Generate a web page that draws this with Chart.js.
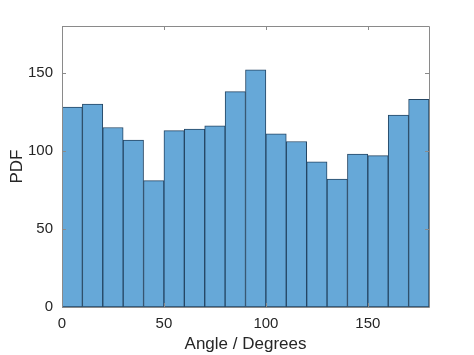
<!DOCTYPE html>
<html>
<head>
<meta charset="utf-8">
<script src="https://cdn.jsdelivr.net/npm/chart.js@4/dist/chart.umd.min.js"></script>
<style>
html,body{margin:0;padding:0;background:#fff;}
#wrap{width:474px;height:355px;}
</style>
</head>
<body>
<div id="wrap"><canvas id="c" width="474" height="355"></canvas></div>
<script>
// Histogram bins (centres, degrees) and counts
const binCenters = [5, 15, 25, 35, 45, 55, 65, 75, 85, 95, 105, 115, 125, 135, 145, 155, 165, 175];
const counts = [128, 130, 115, 107, 81, 113, 114, 116, 138, 152, 111, 106, 93, 82, 98, 97, 123, 133];
const xTicks = [0, 50, 100, 150];
const yTicks = [0, 50, 100, 150];
const xTitle = 'Angle / Degrees';
const yTitle = 'PDF';

const FONT = 'Liberation Sans, Arial, Helvetica, sans-serif';
const AXIS_COLOR = '#8a8a8a';
const TEXT_COLOR = '#262626';

const boxPlugin = {
  id: 'box',
  afterDatasetsDraw(chart) {
    const {ctx, chartArea: a, scales} = chart;
    ctx.save();
    ctx.strokeStyle = AXIS_COLOR;
    ctx.lineWidth = 1;
    ctx.beginPath();
    ctx.rect(Math.round(a.left) + 0.5, Math.round(a.top) + 0.5, Math.round(a.right - a.left), Math.round(a.bottom - a.top));
    ctx.stroke();
    const tl = 4;
    ctx.beginPath();
    xTicks.forEach(v => {
      const px = Math.round(scales.x.getPixelForValue(v)) + 0.5;
      ctx.moveTo(px, a.bottom); ctx.lineTo(px, a.bottom - tl);
      ctx.moveTo(px, a.top); ctx.lineTo(px, a.top + tl);
    });
    yTicks.forEach(v => {
      const py = Math.round(scales.y.getPixelForValue(v)) + 0.5;
      ctx.moveTo(a.left, py); ctx.lineTo(a.left + tl, py);
      ctx.moveTo(a.right, py); ctx.lineTo(a.right - tl, py);
    });
    ctx.stroke();
    ctx.restore();
  }
};

new Chart(document.getElementById('c'), {
  type: 'bar',
  data: {
    datasets: [{
      data: binCenters.map((x, i) => ({x: x, y: counts[i]})),
      backgroundColor: 'rgb(102,168,216)',
      borderColor: 'rgb(36,70,100)',
      borderWidth: 1,
      barPercentage: 1,
      categoryPercentage: 1,
      borderSkipped: false
    }]
  },
  options: {
    responsive: false,
    animation: false,
    devicePixelRatio: 1,
    layout: {padding: {left: 0, right: 45, top: 26, bottom: 0}},
    plugins: {legend: {display: false}, tooltip: {enabled: false}},
    scales: {
      x: {
        type: 'linear',
        min: 0, max: 180,
        offset: false,
        grid: {display: false, drawTicks: false},
        border: {display: false},
        afterBuildTicks: s => { s.ticks = xTicks.map(v => ({value: v})); },
        afterFit: s => { s.height = 48; },
        ticks: {color: TEXT_COLOR, font: {family: FONT, size: 15}, padding: 8, maxRotation: 0},
        title: {display: true, text: xTitle, color: TEXT_COLOR, font: {family: FONT, size: 17, lineHeight: 1.2}, padding: {top: 0, bottom: 0}}
      },
      y: {
        min: 0, max: 180,
        grid: {display: false, drawTicks: false},
        border: {display: false},
        afterBuildTicks: s => { s.ticks = yTicks.map(v => ({value: v})); },
        afterFit: s => { s.width = 62; },
        ticks: {color: TEXT_COLOR, font: {family: FONT, size: 15}, padding: 9},
        title: {display: true, text: yTitle, color: TEXT_COLOR, font: {family: FONT, size: 17, lineHeight: 1.2}, padding: {top: 7, bottom: 0}}
      }
    }
  },
  plugins: [boxPlugin]
});
</script>
</body>
</html>
